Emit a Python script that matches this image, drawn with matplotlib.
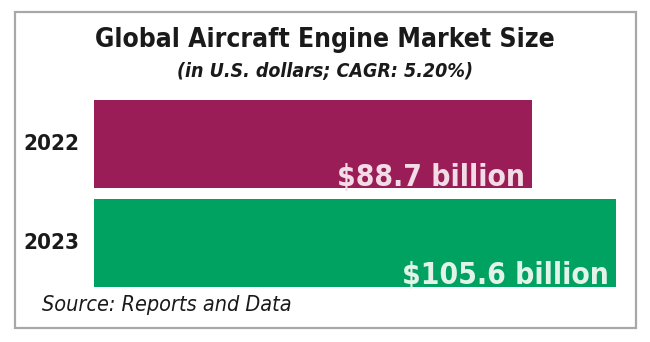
import matplotlib
matplotlib.use('Agg')
import matplotlib.pyplot as plt
from matplotlib.patches import Rectangle

years = ['2022', '2023']
values = [88.7, 105.6]
labels = ['$88.7 billion', '$105.6 billion']
colors = ['#9B1D57', '#00A262']
text_colors = ['#F2DCE6', '#E2F3EA']

FONT = ['DejaVu Sans']
W, H = 650, 342

fig = plt.figure(figsize=(6.5, 3.42), dpi=100)
fig.patch.set_facecolor('white')

# outer frame
fig.patches.append(Rectangle((15 / W, 1 - 328 / H), 621 / W, 316 / H,
                             transform=fig.transFigure, fill=False,
                             edgecolor='#A8A8A8', linewidth=1.6))

ax = fig.add_axes([94 / W, 1 - 292 / H, 526 / W, 197 / H])
ax.barh(range(len(years)), values, height=0.89, color=colors)
ax.set_xlim(0, 526 / 4.94)
ax.set_ylim(1.5, -0.5)
ax.axis('off')

for i, (v, lab) in enumerate(zip(values, labels)):
    ax.text(v - 1.4, i + 0.42, lab, ha='right', va='baseline',
            color=text_colors[i], fontsize=21.5, fontweight='bold', family=FONT,
            fontstretch='condensed')
    ax.text(-3, i, years[i], ha='right', va='center', color='#1a1a1a',
            fontsize=16, fontweight='bold', family=FONT, fontstretch='condensed')

fig.text(0.5, 1 - 40 / H, 'Global Aircraft Engine Market Size', ha='center',
         va='center', fontsize=19, fontweight='bold', color='#1a1a1a', family=FONT,
         fontstretch='condensed')
fig.text(0.5, 1 - 72 / H, '(in U.S. dollars; CAGR: 5.20%)', ha='center',
         va='center', fontsize=14, fontweight='bold', style='italic',
         color='#1a1a1a', family=FONT, fontstretch='condensed')
fig.text(42 / W, 1 - 305 / H, 'Source: Reports and Data', ha='left',
         va='center', fontsize=15.5, style='italic', color='#1a1a1a', family=FONT,
         fontstretch='condensed')

fig.savefig('out.png', dpi=100)
